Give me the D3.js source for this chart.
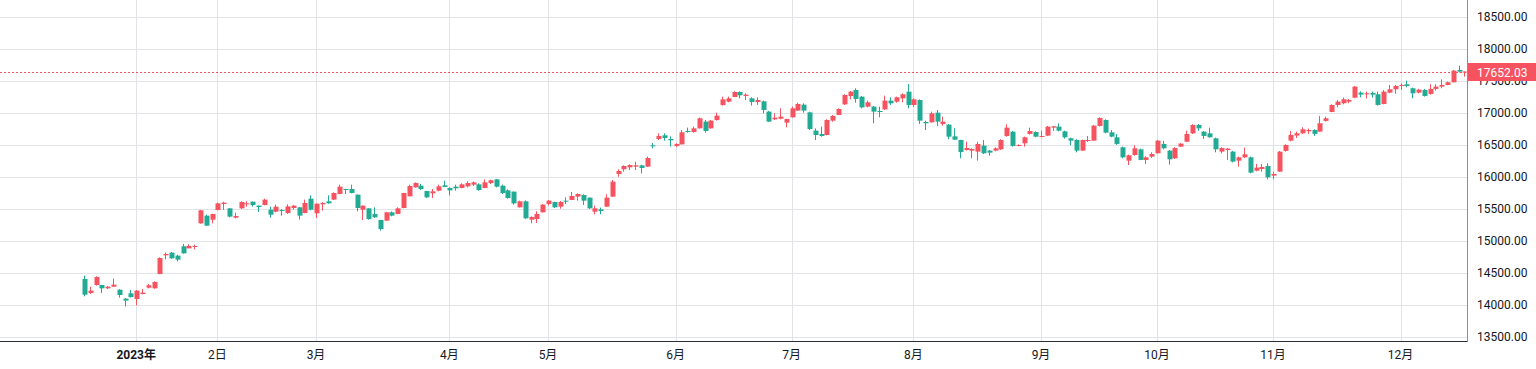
<!DOCTYPE html>
<html>
<head>
<meta charset="utf-8">
<script src="https://cdn.jsdelivr.net/npm/d3@7"></script>
<style>
  body { margin: 0; background: #fff; }
  svg { display: block; }
</style>
</head>
<body>
<svg id="chart" width="1536" height="369"></svg>
<script>
// daily candles, red = up, green = down
var open = [14411,14192,14317,14317,14265,14291,14244,14104,14187,14099,14177,14276,14265,14489,14781,14823,14776,14922,14890,14911,
  15281,15401,15338,15489,15583,15515,15369,15515,15578,15619,15557,15567,15494,15463,15489,15442,15520,15531,15442,15666,
  15437,15578,15625,15651,15739,15817,15817,15729,15494,15515,15427,15333,15323,15453,15427,15520,15703,15843,15869,15786,
  15750,15791,15875,15833,15854,15833,15859,15885,15890,15833,15911,15968,15869,15796,15776,15531,15625,15338,15349,15453,
  15583,15614,15541,15635,15646,15698,15724,15682,15463,15500,15541,15698,16052,16125,16156,16166,16187,16166,16500,16599,
  16656,16599,16490,16515,16724,16708,16765,16870,16765,16896,17130,17182,17255,17333,17270,17234,17177,17187,17026,16906,
  16916,16854,16937,17042,17135,17015,16729,16677,16661,16885,16974,17140,17270,17364,17260,17104,17104,17036,17062,17198,
  17182,17234,17338,17130,17208,16865,16859,17010,16833,16823,16640,16583,16427,16417,16401,16495,16417,16417,16437,16646,
  16713,16495,16531,16677,16708,16630,16651,16776,16792,16718,16609,16583,16417,16568,16573,16802,16896,16703,16625,16469,
  16260,16349,16437,16271,16323,16375,16521,16417,16297,16479,16557,16687,16818,16713,16687,16609,16401,16427,16401,16260,
  16312,16312,16104,16130,16177,16026,16088,16412,16573,16652,16688,16719,16740,16714,16881,17021,17130,17157,17183,17245,
  17323,17297,17318,17297,17146,17323,17375,17427,17453,17391,17323,17365,17303,17381,17417,17443,17485,17677,17641]
var high = [14463,14291,14453,14320,14302,14416,14250,14114,14239,14239,14255,14333,14375,14750,14823,14833,14791,14958,14953,14948,
  15490,15416,15430,15604,15619,15520,15447,15625,15625,15622,15560,15666,15541,15573,15505,15578,15567,15535,15651,15718,
  15590,15609,15718,15765,15885,15820,15885,15732,15560,15518,15531,15336,15456,15468,15531,15758,15885,15921,15895,15789,
  15817,15885,15947,15843,15885,15906,15937,15937,15906,15968,15963,15974,15885,15812,15779,15635,15640,15390,15468,15583,
  15645,15617,15630,15687,15771,15750,15734,15685,15557,15526,15734,15958,16125,16187,16203,16244,16198,16323,16536,16687,
  16687,16640,16531,16739,16776,16791,16932,16896,16896,17010,17260,17260,17344,17344,17312,17250,17250,17198,17036,17000,
  17078,16914,17104,17166,17156,17026,16765,16791,16906,16974,17078,17297,17349,17390,17270,17198,17114,17104,17276,17250,
  17260,17312,17458,17234,17218,16885,17026,17052,16948,16833,16765,16586,16557,16453,16557,16583,16427,16469,16594,16828,
  16724,16515,16635,16776,16718,16729,16802,16802,16843,16729,16620,16594,16588,16646,16818,16937,16906,16739,16677,16479,
  16354,16500,16448,16328,16390,16583,16568,16427,16469,16536,16729,16828,16833,16724,16776,16620,16469,16458,16411,16323,
  16464,16323,16208,16208,16219,16088,16411,16516,16724,16714,16782,16761,16750,16959,16948,17141,17209,17245,17224,17427,
  17344,17339,17339,17339,17365,17443,17443,17469,17511,17401,17381,17381,17454,17454,17532,17495,17677,17745,17655]
var low = [14140,14177,14307,14192,14255,14285,14120,13984,14120,14000,14172,14265,14260,14485,14718,14724,14687,14807,14890,14875,
  15275,15240,15281,15484,15489,15375,15359,15505,15541,15541,15458,15562,15369,15453,15401,15427,15494,15338,15438,15484,
  15364,15479,15588,15648,15735,15739,15750,15468,15333,15338,15364,15166,15320,15390,15424,15517,15700,15840,15802,15677,
  15677,15781,15846,15718,15791,15830,15843,15864,15791,15830,15895,15843,15739,15666,15573,15528,15349,15281,15286,15450,
  15557,15520,15510,15583,15643,15635,15568,15505,15422,15422,15538,15695,16010,16088,16114,16114,16062,16163,16453,16583,
  16573,16479,16469,16512,16698,16698,16762,16698,16762,16885,17120,17172,17252,17234,17208,17120,17130,17000,16865,16896,
  16906,16781,16934,17039,17010,16739,16583,16635,16656,16870,16971,17130,17218,17166,17078,17093,16844,16937,17052,17130,
  17166,17172,17078,17104,16833,16739,16854,16802,16807,16594,16583,16297,16417,16297,16260,16364,16338,16406,16427,16635,
  16479,16485,16479,16666,16625,16625,16646,16724,16718,16604,16500,16390,16414,16552,16570,16792,16687,16625,16505,16297,
  16193,16338,16268,16208,16302,16372,16437,16198,16286,16474,16552,16677,16729,16599,16620,16390,16375,16271,16234,16166,
  16302,16062,16094,16088,15969,15969,16085,16401,16563,16615,16678,16678,16647,16711,16870,17018,17094,17141,17157,17235,
  17250,17230,17245,17120,17141,17313,17303,17365,17407,17235,17313,17261,17292,17355,17391,17438,17482,17636,17573]
var close = [14166,14229,14442,14265,14291,14323,14161,14073,14130,14229,14198,14312,14364,14739,14802,14734,14713,14812,14927,14927,
  15484,15244,15427,15593,15604,15385,15395,15614,15593,15567,15536,15651,15416,15541,15474,15546,15557,15401,15599,15494,
  15588,15599,15593,15755,15854,15802,15755,15520,15557,15349,15375,15192,15453,15401,15515,15755,15864,15911,15817,15687,
  15781,15859,15849,15796,15828,15890,15911,15921,15802,15921,15953,15854,15755,15677,15593,15625,15359,15380,15427,15573,
  15635,15531,15614,15625,15708,15739,15635,15515,15515,15474,15682,15932,16099,16177,16192,16187,16146,16302,16490,16646,
  16614,16578,16521,16703,16708,16765,16922,16724,16885,16963,17218,17234,17333,17281,17291,17177,17208,17052,16870,16932,
  16948,16911,17078,17146,17042,16755,16661,16646,16896,16958,17067,17286,17338,17224,17093,17172,17026,17026,17198,17156,
  17250,17297,17130,17218,16885,16844,17000,16870,16870,16635,16588,16396,16458,16443,16521,16375,16385,16453,16583,16776,
  16490,16505,16625,16724,16635,16646,16792,16797,16729,16625,16573,16417,16583,16583,16807,16927,16698,16635,16521,16312,
  16344,16453,16271,16312,16364,16573,16453,16281,16458,16526,16677,16818,16765,16646,16625,16437,16458,16448,16245,16312,
  16359,16073,16151,16161,16000,16052,16401,16506,16662,16688,16750,16740,16678,16844,16922,17130,17183,17219,17209,17417,
  17292,17313,17292,17131,17339,17375,17427,17443,17427,17313,17370,17271,17381,17417,17443,17485,17667,17651,17652.03]

// first bar of each month and its label
var monthIdx = [9, 23, 40, 63, 80, 102, 122, 143, 165, 185, 205, 227]
var monthLabels = ["2023年", "2日", "3月", "4月", "5月", "6月", "7月", "8月", "9月", "10月", "11月", "12月"]
var priceTicks = [13500, 14000, 14500, 15000, 15500, 16000, 16500, 17000, 17500, 18000, 18500]

var upColor = "#f7525f", downColor = "#22ab94"
var plotW = 1467, plotH = 341
var font = "Roboto, 'Noto Sans CJK SC', sans-serif"

var svg = d3.select("#chart")

var x = d3.scaleLinear().domain([0, close.length - 1]).range([84, 1464.4])
var y = d3.scaleLinear().domain([13500, 18500]).range([337.3, 17.3])

// grid
svg.append("g").selectAll("line")
  .data(priceTicks)
  .enter().append("line")
  .attr("x1", 0).attr("x2", plotW)
  .attr("y1", d => Math.round(y(d)) + 0.5).attr("y2", d => Math.round(y(d)) + 0.5)
  .attr("stroke", "#e1e3e6")

svg.append("g").selectAll("line")
  .data(monthIdx)
  .enter().append("line")
  .attr("x1", d => Math.round(x(d)) + 0.5).attr("x2", d => Math.round(x(d)) + 0.5)
  .attr("y1", 0).attr("y2", plotH)
  .attr("stroke", "#e1e3e6")

// last price line
var last = close[close.length - 1]
var lastY = Math.round(y(last)) + 0.5
svg.append("line")
  .attr("x1", 0).attr("x2", plotW)
  .attr("y1", lastY).attr("y2", lastY)
  .attr("stroke", upColor).attr("stroke-width", 1)
  .attr("stroke-dasharray", "2,2")

// candles
var bars = svg.append("g").selectAll("g")
  .data(close.map((c, i) => i))
  .enter().append("g")

bars.append("line")
  .attr("x1", i => Math.round(x(i)) + 0.5).attr("x2", i => Math.round(x(i)) + 0.5)
  .attr("y1", i => y(high[i])).attr("y2", i => y(low[i]))
  .attr("stroke", i => close[i] >= open[i] ? upColor : downColor)

bars.append("rect")
  .attr("x", i => Math.round(x(i)) - 1.5)
  .attr("width", 5)
  .attr("y", i => y(Math.max(open[i], close[i])))
  .attr("height", i => Math.max(1, Math.abs(y(open[i]) - y(close[i]))))
  .attr("fill", i => close[i] >= open[i] ? upColor : downColor)

// axes frame
svg.append("line")
  .attr("x1", 0).attr("x2", plotW + 0.5)
  .attr("y1", plotH + 0.5).attr("y2", plotH + 0.5)
  .attr("stroke", "#2a2e39")
svg.append("line")
  .attr("x1", plotW + 0.5).attr("x2", plotW + 0.5)
  .attr("y1", 0).attr("y2", plotH + 0.5)
  .attr("stroke", "#8a8e99")

// price labels on the right
svg.append("g").selectAll("text")
  .data(priceTicks)
  .enter().append("text")
  .attr("x", 1477).attr("y", d => y(d))
  .attr("dominant-baseline", "central")
  .style("font-family", font).style("font-size", "12px").style("fill", "#131722")
  .text(d => d3.format(".2f")(d))

// month labels
svg.append("g").selectAll("text")
  .data(monthIdx)
  .enter().append("text")
  .attr("x", d => x(d)).attr("y", 355)
  .attr("text-anchor", "middle").attr("dominant-baseline", "central")
  .style("font-family", font).style("font-size", "12px").style("fill", "#131722")
  .style("font-weight", (d, i) => i == 0 ? "bold" : "normal")
  .text((d, i) => monthLabels[i])

// current price tag
svg.append("rect")
  .attr("x", plotW + 1).attr("y", lastY - 9.5)
  .attr("width", 1536 - plotW - 1).attr("height", 18)
  .attr("fill", upColor)
svg.append("text")
  .attr("x", 1477).attr("y", lastY)
  .attr("dominant-baseline", "central")
  .style("font-family", font).style("font-size", "12px").style("fill", "#fff")
  .text(d3.format(".2f")(last))
</script>
</body>
</html>
